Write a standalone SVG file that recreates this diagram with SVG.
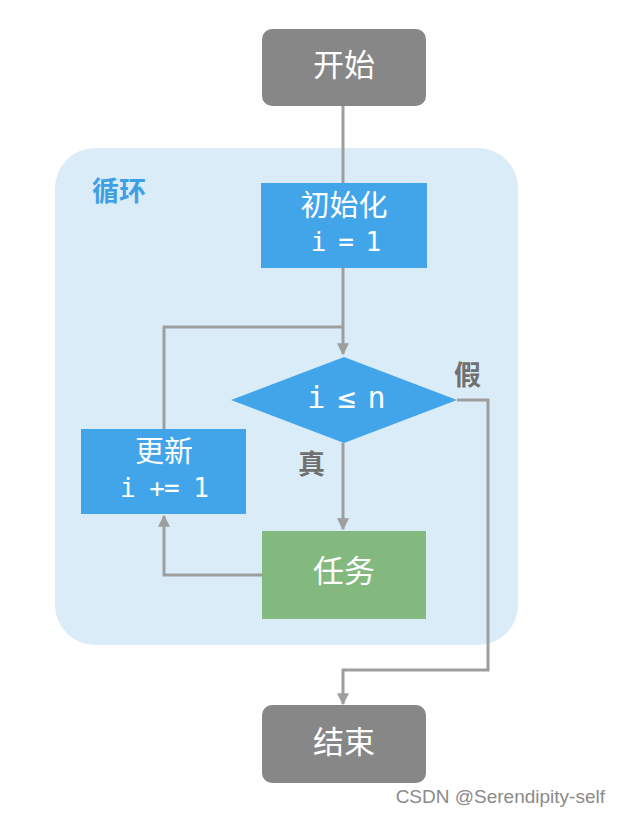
<svg xmlns="http://www.w3.org/2000/svg" width="621" height="816" viewBox="0 0 621 816">
<defs>
<marker id="ah" viewBox="0 0 10 10" refX="9" refY="5" markerWidth="4" markerHeight="4" orient="auto" markerUnits="strokeWidth">
<path d="M0,0 L10,5 L0,10 z" fill="#9e9e9e"/>
</marker>
<style>
.t{font-family:"Noto Sans CJK SC","Noto Sans",sans-serif;fill:#fff;text-anchor:middle;font-weight:400}
.m{font-family:"DejaVu Sans Mono","Noto Sans CJK SC",monospace;fill:#fff;text-anchor:middle}
.c{fill:none;stroke:#9e9e9e;stroke-width:3}
.lb{font-family:"Noto Sans CJK SC",sans-serif;font-weight:bold;fill:#707070;font-size:27px}
.blue{fill:#42a5ea}
.gray{fill:#878787}
</style>
</defs>
<rect x="0" y="0" width="621" height="816" fill="#fff"/>
<g id="loop">
<rect x="55" y="148" width="463" height="497" rx="40" fill="#dbecf9"/>
<text x="92" y="201" font-family="Noto Sans CJK SC,sans-serif" font-weight="bold" font-size="27" fill="#3f9fe4">循环</text>
</g>
<g id="connectors">
<path class="c" d="M343,106 V183"/>
<path class="c" d="M343,268 V354" marker-end="url(#ah)"/>
<path class="c" d="M164,429 V327 H343"/>
<path class="c" d="M343,443 V529" marker-end="url(#ah)"/>
<path class="c" d="M262,575 H164 V516" marker-end="url(#ah)"/>
<path class="c" d="M457,400 H488 V670 H343 V704" marker-end="url(#ah)"/>
</g>
<g id="start">
<rect class="gray" x="262" y="29" width="164" height="77" rx="10"/>
<text class="t" x="344" y="76" font-size="31">开始</text>
</g>
<g id="init">
<rect class="blue" x="261" y="183" width="166" height="85"/>
<text class="t" x="344" y="216" font-size="29">初始化</text>
<text class="m" x="345" y="251" font-size="26" letter-spacing="-2">i = 1</text>
</g>
<g id="cond">
<polygon class="blue" points="231,400 344,357 457,400 344,443"/>
<text class="m" x="345" y="408" font-size="30" letter-spacing="-3">i ≤ n</text>
</g>
<g id="update">
<rect class="blue" x="81" y="429" width="165" height="85"/>
<text class="t" x="164" y="462" font-size="29">更新</text>
<text class="m" x="164" y="497" font-size="26" letter-spacing="-1">i += 1</text>
</g>
<g id="task">
<rect x="262" y="531" width="164" height="88" fill="#83b97f"/>
<text class="t" x="344" y="582" font-size="31">任务</text>
</g>
<g id="end">
<rect class="gray" x="262" y="705" width="164" height="78" rx="10"/>
<text class="t" x="344" y="753" font-size="31">结束</text>
</g>
<text class="lb" x="454" y="385">假</text>
<text class="lb" x="298" y="474">真</text>
<text x="605" y="803" text-anchor="end" font-family="Liberation Sans,Arial,sans-serif" font-size="19" fill="#8a8a8a">CSDN @Serendipity-self</text>
</svg>
